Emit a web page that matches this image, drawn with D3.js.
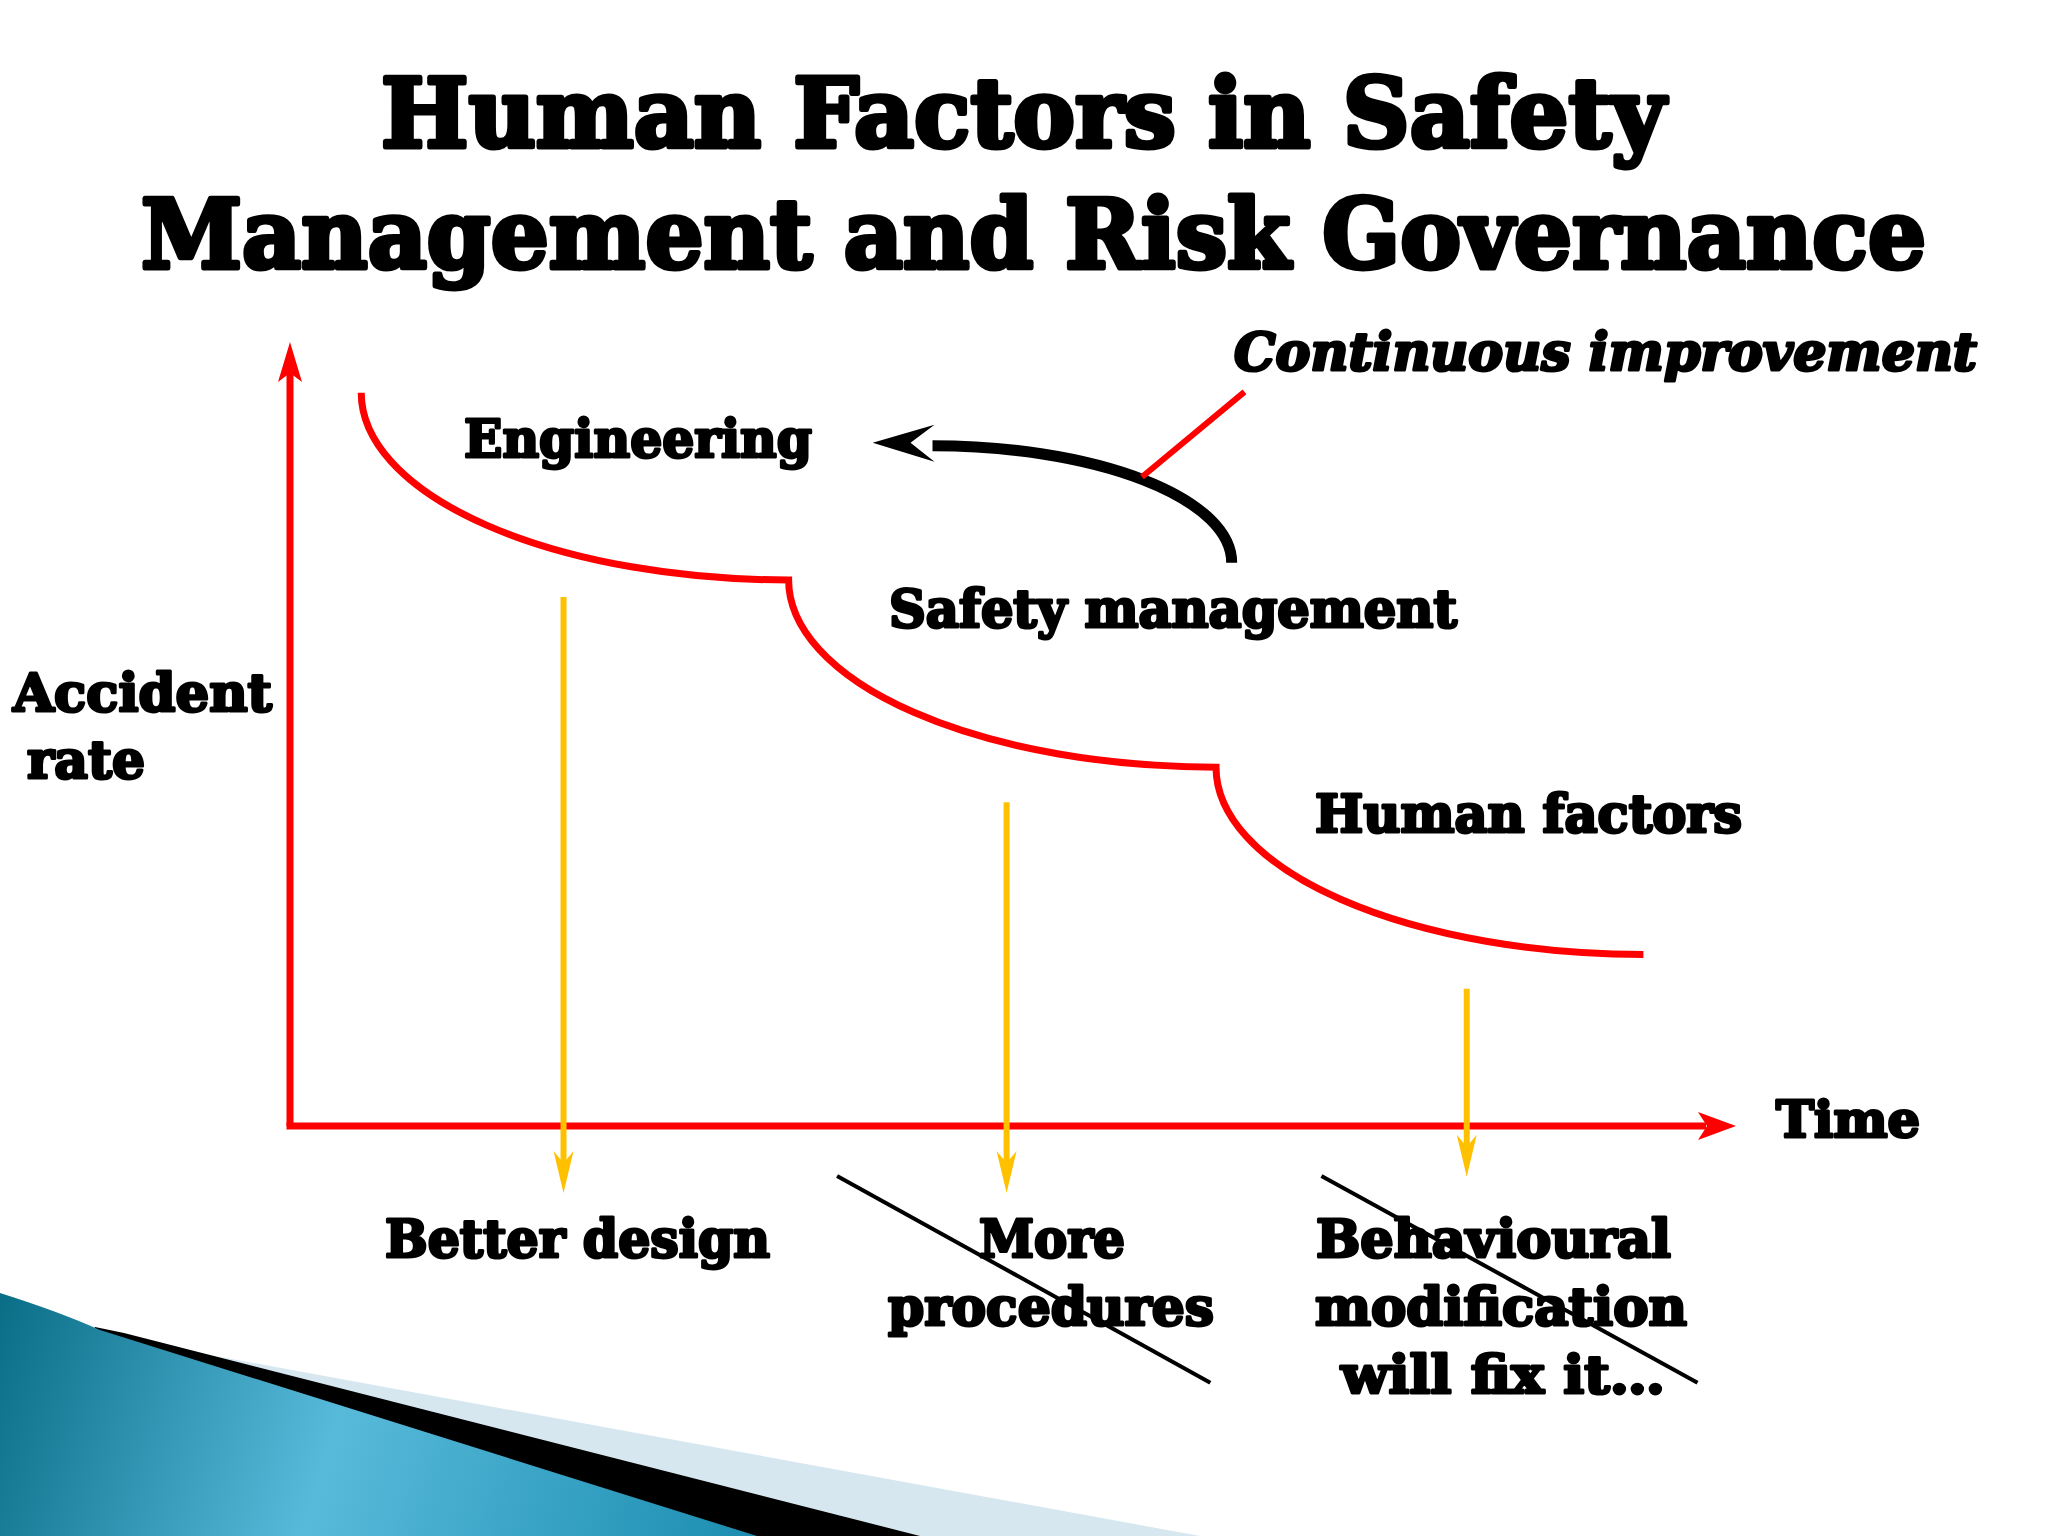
<!DOCTYPE html>
<html lang="en">
<head>
  <meta charset="UTF-8">
  <title>Human Factors in Safety Management and Risk Governance</title>
  <script src="https://d3js.org/d3.v7.min.js"></script>
  <style>
    body { margin: 0; background: #fff; }
    svg { display: block; background: #fff; }
    .lbl { font-family: "DejaVu Serif", serif; font-weight: bold; fill: #000;
           stroke: #000; stroke-linejoin: round; paint-order: stroke; }
  </style>
</head>
<body>
<svg width="2048" height="1536"></svg>
<script>
// accident rate drops in three steps over time
const stepTimes = [0.5, 3.5, 6.5, 9.5];
const stepLevels = [9.4, 7.0, 4.6, 2.2];

// what each step was attributed to
const dropLabels = ["Better design", "More procedures", "Behavioural modification will fix it..."];
const dropTime = [1.92, 5.03, 8.26];
const dropFrom = [6.78, 4.15, 1.76];
const dropTo = [-0.86, -0.86, -0.65];

// "continuous improvement" loop arrow (time, rate)
const loopStart = [6.61, 7.22];
const loopEnd = [4.51, 8.72];
const loopTip = [4.09, 8.76];
const calloutLine = [[5.98, 8.32], [6.70, 9.41]];

// crossed-out ideas
const strikeLines = [
  [[3.84, -0.64], [6.46, -3.29]],
  [[7.24, -0.64], [9.88, -3.29]]
];

const svg = d3.select("svg");
const x = d3.scaleLinear().domain([0, 10.15]).range([290, 1736]);
const y = d3.scaleLinear().domain([0, 10.05]).range([1126, 342]);

const RED = "#ff0000", YEL = "#ffc000";

// bottom-left slide decoration
const defs = svg.append("defs");
const g = defs.append("linearGradient").attr("id", "teal")
  .attr("gradientUnits", "userSpaceOnUse")
  .attr("x1", 0).attr("y1", 1300).attr("x2", 760).attr("y2", 1536);
g.append("stop").attr("offset", "0%").attr("stop-color", "#0a6e87");
g.append("stop").attr("offset", "45%").attr("stop-color", "#58badb");
g.append("stop").attr("offset", "100%").attr("stop-color", "#1b8db0");

const deco = svg.append("g");
deco.append("path").attr("d", "M110,1331 L166,1347 L1200,1536 L0,1536 Z").attr("fill", "#d6e7f0");
deco.append("path").attr("d", "M95,1327 L124,1333 L920,1536 L0,1536 Z").attr("fill", "#000");
deco.append("path").attr("d", "M0,1293 Q60,1312 100,1330 L757,1536 L0,1536 Z").attr("fill", "url(#teal)");

// axes with arrowheads
const axes = svg.append("g");
axes.append("line")
  .attr("x1", x(0)).attr("y1", y(0)).attr("x2", x(0)).attr("y2", y(10.05) + 30)
  .attr("stroke", RED).attr("stroke-width", 7);
axes.append("line")
  .attr("x1", x(0) - 3.5).attr("y1", y(0)).attr("x2", x(10.15) - 30).attr("y2", y(0))
  .attr("stroke", RED).attr("stroke-width", 7);
const tipY = [x(0), y(10.05)];
axes.append("path")
  .attr("d", `M${tipY[0]},${tipY[1]} L${tipY[0] + 12},${tipY[1] + 40} L${tipY[0]},${tipY[1] + 31} L${tipY[0] - 12},${tipY[1] + 40} Z`)
  .attr("fill", RED);
const tipX = [x(10.15), y(0)];
axes.append("path")
  .attr("d", `M${tipX[0]},${tipX[1]} L${tipX[0] - 38},${tipX[1] - 14} L${tipX[0] - 29},${tipX[1]} L${tipX[0] - 38},${tipX[1] + 14} Z`)
  .attr("fill", RED);

// stepped accident-rate curve: quarter ellipses
let d = `M${x(stepTimes[0])},${y(stepLevels[0])}`;
for (let i = 0; i < 3; i++) {
  const x0 = x(stepTimes[i]), y0 = y(stepLevels[i]);
  const x1 = x(stepTimes[i + 1]), y1 = y(stepLevels[i + 1]);
  if (i > 0) d += ` L${x0},${y0}`;
  d += ` A${x1 - x0},${y1 - y0} 0 0 0 ${x1},${y1}`;
}
svg.append("path").attr("d", d).attr("fill", "none")
  .attr("stroke", RED).attr("stroke-width", 7);

// yellow drop arrows
const drops = svg.append("g");
dropTime.forEach((t, i) => {
  const px = x(t), top = y(dropFrom[i]), tip = y(dropTo[i]);
  drops.append("line").attr("x1", px).attr("x2", px)
    .attr("y1", top).attr("y2", tip - 20)
    .attr("stroke", YEL).attr("stroke-width", 6);
  drops.append("path")
    .attr("d", `M${px},${tip} L${px - 10},${tip - 42} L${px},${tip - 30} L${px + 10},${tip - 42} Z`)
    .attr("fill", YEL);
});

// continuous improvement loop arrow
const ls = [x(loopStart[0]), y(loopStart[1])];
const le = [x(loopEnd[0]), y(loopEnd[1])];
svg.append("path")
  .attr("d", `M${ls[0]},${ls[1]} A${ls[0] - le[0]},${ls[1] - le[1]} 0 0 0 ${le[0]},${le[1]}`)
  .attr("fill", "none").attr("stroke", "#000").attr("stroke-width", 11);
const lt = [x(loopTip[0]), y(loopTip[1])];
svg.append("path")
  .attr("d", `M${lt[0]},${lt[1]} L${le[0] + 2},${lt[1] - 18} L${le[0] - 22},${lt[1]} L${le[0] + 2},${lt[1] + 19} Z`)
  .attr("fill", "#000");
svg.append("line")
  .attr("x1", x(calloutLine[0][0])).attr("y1", y(calloutLine[0][1]))
  .attr("x2", x(calloutLine[1][0])).attr("y2", y(calloutLine[1][1]))
  .attr("stroke", RED).attr("stroke-width", 6);

// text
const texts = [
  { t: "Human Factors in Safety", x: 381, y: 147, w: 1284, s: 95, sw: 5 },
  { t: "Management and Risk Governance", x: 141, y: 268, w: 1785, s: 95, sw: 5 },
  { t: "Continuous improvement", x: 1234, y: 370, w: 743, s: 52, it: true },
  { t: "Engineering", x: 464, y: 457, w: 348, s: 53 },
  { t: "Safety management", x: 889, y: 627, w: 568, s: 52 },
  { t: "Human factors", x: 1315, y: 832, w: 427, s: 52 },
  { t: "Accident", x: 13, y: 711, w: 259, s: 53 },
  { t: "rate", x: 27, y: 778, w: 118, s: 53 },
  { t: "Time", x: 1776, y: 1137, w: 144, s: 50 },
  { t: dropLabels[0], x: 385, y: 1257, w: 385, s: 52 },
  { t: "More", x: 979, y: 1257, w: 146, s: 52 },
  { t: "procedures", x: 888, y: 1325, w: 326, s: 52 },
  { t: "Behavioural", x: 1316, y: 1257, w: 355, s: 52 },
  { t: "modification", x: 1315, y: 1325, w: 372, s: 52 },
  { t: "will fix it…", x: 1341, y: 1393, w: 324, s: 52 }
];
svg.append("g").selectAll("text").data(texts).join("text")
  .attr("class", "lbl")
  .attr("x", d => d.x).attr("y", d => d.y)
  .attr("textLength", d => d.w).attr("lengthAdjust", "spacingAndGlyphs")
  .attr("font-size", d => d.s)
  .attr("font-style", d => d.it ? "italic" : "normal")
  .attr("stroke-width", d => d.sw || 3)
  .text(d => d.t);

// strike-through lines over discarded ideas
svg.append("g").selectAll("line").data(strikeLines).join("line")
  .attr("x1", d => x(d[0][0])).attr("y1", d => y(d[0][1]))
  .attr("x2", d => x(d[1][0])).attr("y2", d => y(d[1][1]))
  .attr("stroke", "#000").attr("stroke-width", 4);
</script>
</body>
</html>
